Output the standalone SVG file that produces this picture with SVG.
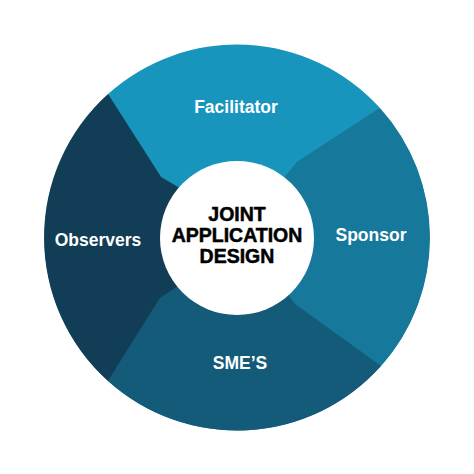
<svg xmlns="http://www.w3.org/2000/svg" width="474" height="474" viewBox="0 0 474 474">
<style>
.lbl{font-family:"Liberation Sans",Arial,sans-serif;font-weight:bold;font-size:17.5px;fill:#ffffff;text-anchor:middle}
.ctr{font-family:"Liberation Sans",Arial,sans-serif;font-weight:bold;font-size:19.5px;fill:#000000;stroke:#000000;stroke-width:0.5px;text-anchor:middle}
</style>
<rect width="474" height="474" fill="#ffffff"/>
<circle cx="237" cy="238" r="192.5" fill="#16799b"/>
<g id="facilitator">
<path d="M108 94 A193 193 0 0 1 380 108 L297 162 L280 183 L237 238 L200 200 L161 177 Z" fill="#1895bc"/>
<text class="lbl" x="236" y="113">Facilitator</text>
</g>
<g id="sponsor">
<path d="M380 108 A193 193 0 0 1 381 366 L295 304 L279 282 L237 238 L280 183 L297 162 Z" fill="#16799b"/>
<text class="lbl" x="371" y="241">Sponsor</text>
</g>
<g id="smes">
<path d="M381 366 A193 193 0 0 1 108 381 L160 298 L194 276 L237 238 L279 282 L295 304 Z" fill="#135b79"/>
<text class="lbl" x="240" y="369">SME’S</text>
</g>
<g id="observers">
<path d="M108 381 A193 193 0 0 1 108 94 L161 177 L200 200 L237 238 L194 276 L160 298 Z" fill="#123d56"/>
<text class="lbl" x="98" y="246">Observers</text>
</g>
<g id="center">
<circle cx="237" cy="238" r="77" fill="#ffffff"/>
<text class="ctr" x="237" y="221">JOINT</text>
<text class="ctr" x="237" y="242">APPLICATION</text>
<text class="ctr" x="237" y="263">DESIGN</text>
</g>
<g id="connectors"></g>
</svg>
